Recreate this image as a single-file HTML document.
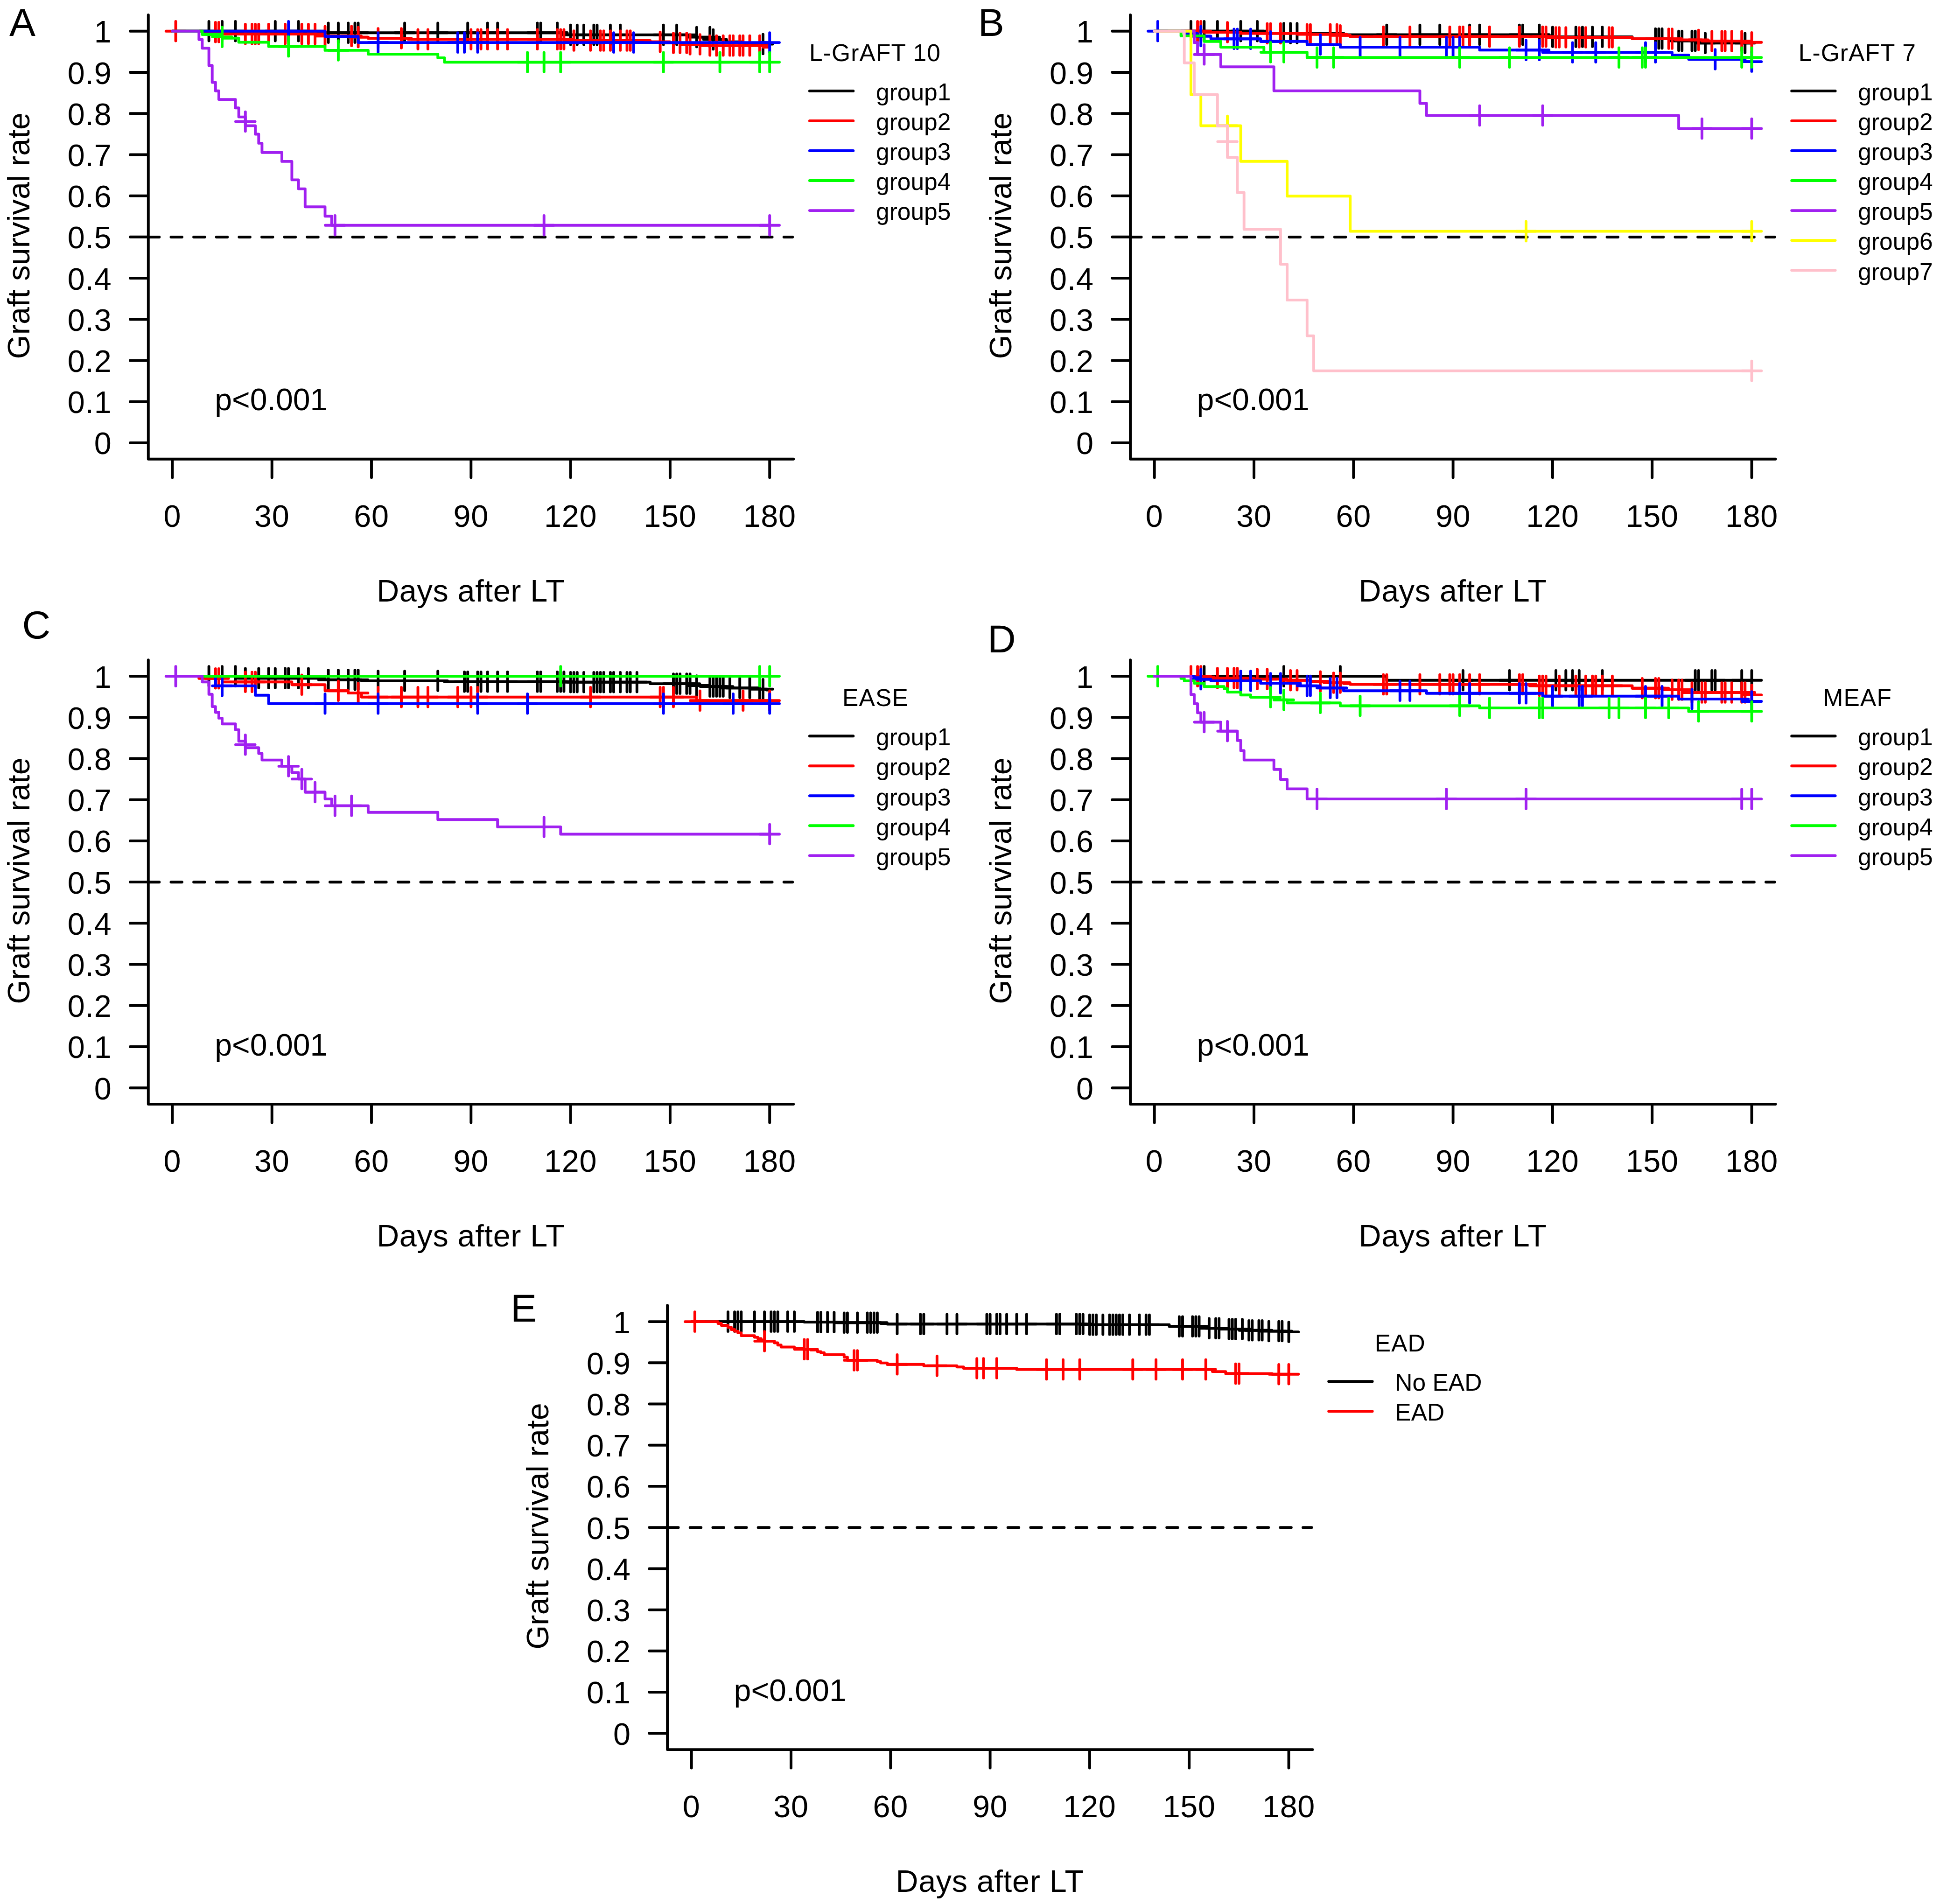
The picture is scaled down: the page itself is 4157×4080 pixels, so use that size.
<!DOCTYPE html>
<html><head><meta charset="utf-8"><title>Graft survival</title>
<style>html,body{margin:0;padding:0;background:#fff}svg{display:block}</style></head>
<body><svg width="4157" height="4080" viewBox="0 0 4157 4080" font-family="'Liberation Sans', Arial, sans-serif" fill="#000">
<rect width="4157" height="4080" fill="#fff"/>
<g transform="translate(0.0 0.0)">
<g fill="none" stroke-width="5.9" stroke-linecap="round" stroke-linejoin="round">
<path d="M317.8 508.0H1698.2" stroke="#000" stroke-dasharray="23.5 25.14"/>
<path d="M369.4 66.8 L696.5 66.8 L696.5 70.3 L1215.5 70.3 L1215.5 74.6 L1492.8 74.6 L1492.8 79.6 L1528.3 79.6 L1528.3 84.6 L1556.8 84.6 L1556.8 89.6 L1592.3 89.6 L1592.3 94.5 L1649.2 94.5" stroke="#000000"/>
<path d="M426.8 66.8h41.6M447.6 46.0v41.6M455.2 66.8h41.6M476.0 46.0v41.6M483.7 66.8h41.6M504.5 46.0v41.6M569.0 66.8h41.6M589.8 46.0v41.6M618.8 66.8h41.6M639.6 46.0v41.6M682.8 70.3h41.6M703.6 49.5v41.6M704.1 70.3h41.6M724.9 49.5v41.6M725.4 70.3h41.6M746.2 49.5v41.6M739.7 70.3h41.6M760.5 49.5v41.6M746.8 70.3h41.6M767.6 49.5v41.6M846.3 70.3h41.6M867.1 49.5v41.6M917.4 70.3h41.6M938.2 49.5v41.6M981.4 70.3h41.6M1002.2 49.5v41.6M1024.0 70.3h41.6M1044.8 49.5v41.6M1045.4 70.3h41.6M1066.2 49.5v41.6M1130.7 70.3h41.6M1151.5 49.5v41.6M1137.8 70.3h41.6M1158.6 49.5v41.6M1173.4 70.3h41.6M1194.2 49.5v41.6M1201.8 74.6h41.6M1222.6 53.8v41.6M1216.0 74.6h41.6M1236.8 53.8v41.6M1230.2 74.6h41.6M1251.0 53.8v41.6M1251.6 74.6h41.6M1272.4 53.8v41.6M1258.7 74.6h41.6M1279.5 53.8v41.6M1287.1 74.6h41.6M1307.9 53.8v41.6M1308.5 74.6h41.6M1329.2 53.8v41.6M1400.9 74.6h41.6M1421.7 53.8v41.6M1429.3 74.6h41.6M1450.1 53.8v41.6M1472.0 79.6h41.6M1492.8 58.8v41.6M1500.4 79.6h41.6M1521.2 58.8v41.6M1507.5 84.6h41.6M1528.3 63.8v41.6M1614.2 94.5h41.6M1635.0 73.7v41.6" stroke="#000000"/>
<path d="M369.4 66.8 L433.4 66.8 L433.4 68.8 L476.0 68.8 L476.0 72.7 L696.5 72.7 L696.5 77.2 L767.6 77.2 L767.6 79.6 L788.9 79.6 L788.9 82.0 L881.3 82.0 L881.3 84.3 L1215.5 84.3 L1215.5 87.0 L1393.2 87.0 L1393.2 89.6 L1435.9 89.6 L1435.9 92.0 L1478.6 92.0 L1478.6 95.0 L1507.0 95.0 L1507.0 97.6 L1635.0 97.6 L1635.0 101.0 L1649.2 101.0" stroke="#FF0000"/>
<path d="M355.7 66.8h41.6M376.5 46.0v41.6M441.0 68.8h41.6M461.8 48.0v41.6M448.1 68.8h41.6M468.9 48.0v41.6M505.0 72.7h41.6M525.8 51.9v41.6M519.2 72.7h41.6M540.0 51.9v41.6M526.4 72.7h41.6M547.1 51.9v41.6M533.5 72.7h41.6M554.3 51.9v41.6M554.8 72.7h41.6M575.6 51.9v41.6M590.3 72.7h41.6M611.1 51.9v41.6M625.9 72.7h41.6M646.7 51.9v41.6M640.1 72.7h41.6M660.9 51.9v41.6M654.3 72.7h41.6M675.1 51.9v41.6M675.7 77.2h41.6M696.5 56.4v41.6M732.5 77.2h41.6M753.3 56.4v41.6M746.8 79.6h41.6M767.6 58.8v41.6M789.4 82.0h41.6M810.2 61.2v41.6M839.2 82.0h41.6M860.0 61.2v41.6M874.7 84.3h41.6M895.5 63.5v41.6M896.1 84.3h41.6M916.9 63.5v41.6M988.5 84.3h41.6M1009.3 63.5v41.6M1002.7 84.3h41.6M1023.5 63.5v41.6M1009.8 84.3h41.6M1030.6 63.5v41.6M1024.0 84.3h41.6M1044.8 63.5v41.6M1045.4 84.3h41.6M1066.2 63.5v41.6M1066.7 84.3h41.6M1087.5 63.5v41.6M1130.7 84.3h41.6M1151.5 63.5v41.6M1173.4 84.3h41.6M1194.2 63.5v41.6M1180.5 84.3h41.6M1201.3 63.5v41.6M1187.6 84.3h41.6M1208.4 63.5v41.6M1208.9 87.0h41.6M1229.7 66.2v41.6M1244.5 87.0h41.6M1265.3 66.2v41.6M1265.8 87.0h41.6M1286.6 66.2v41.6M1272.9 87.0h41.6M1293.7 66.2v41.6M1287.1 87.0h41.6M1307.9 66.2v41.6M1308.5 87.0h41.6M1329.2 66.2v41.6M1322.7 87.0h41.6M1343.5 66.2v41.6M1329.8 87.0h41.6M1350.6 66.2v41.6M1393.8 89.6h41.6M1414.6 68.8v41.6M1422.2 92.0h41.6M1443.0 71.2v41.6M1436.4 92.0h41.6M1457.2 71.2v41.6M1450.6 92.0h41.6M1471.4 71.2v41.6M1457.8 95.0h41.6M1478.6 74.2v41.6M1479.1 95.0h41.6M1499.9 74.2v41.6M1500.4 97.6h41.6M1521.2 76.8v41.6M1514.6 97.6h41.6M1535.4 76.8v41.6M1528.9 97.6h41.6M1549.7 76.8v41.6M1543.1 97.6h41.6M1563.9 76.8v41.6M1550.2 97.6h41.6M1571.0 76.8v41.6M1564.4 97.6h41.6M1585.2 76.8v41.6M1571.5 97.6h41.6M1592.3 76.8v41.6M1585.7 97.6h41.6M1606.5 76.8v41.6M1607.1 97.6h41.6M1627.9 76.8v41.6" stroke="#FF0000"/>
<path d="M369.4 66.8 L696.5 66.8 L696.5 78.1 L767.6 78.1 L767.6 91.1 L1649.2 91.1" stroke="#0000FF"/>
<path d="M597.5 66.8h41.6M618.2 46.0v41.6M789.4 91.1h41.6M810.2 70.3v41.6M960.1 91.1h41.6M980.9 70.3v41.6M974.3 91.1h41.6M995.1 70.3v41.6M1002.7 91.1h41.6M1023.5 70.3v41.6M1294.2 91.1h41.6M1315.0 70.3v41.6M1336.9 91.1h41.6M1357.7 70.3v41.6M1628.4 91.1h41.6M1649.2 70.3v41.6" stroke="#0000FF"/>
<path d="M369.4 66.8 L433.4 66.8 L433.4 74.0 L476.0 74.0 L476.0 81.7 L511.6 81.7 L511.6 90.6 L575.6 90.6 L575.6 99.6 L696.5 99.6 L696.5 107.9 L788.9 107.9 L788.9 116.0 L938.2 116.0 L938.2 123.9 L952.4 123.9 L952.4 133.3 L1649.2 133.3" stroke="#00FF00"/>
<path d="M455.2 79.1h41.6M476.0 58.3v41.6M597.5 99.6h41.6M618.2 78.8v41.6M704.1 107.9h41.6M724.9 87.1v41.6M1109.4 133.3h41.6M1130.2 112.5v41.6M1144.9 133.3h41.6M1165.7 112.5v41.6M1180.5 133.3h41.6M1201.3 112.5v41.6M1400.9 133.3h41.6M1421.7 112.5v41.6M1521.8 133.3h41.6M1542.6 112.5v41.6M1607.1 133.3h41.6M1627.9 112.5v41.6M1628.4 133.3h41.6M1649.2 112.5v41.6" stroke="#00FF00"/>
<path d="M369.4 66.8 L426.3 66.8 L426.3 84.8 L433.4 84.8 L433.4 103.2 L447.6 103.2 L447.6 140.2 L454.7 140.2 L454.7 176.5 L461.8 176.5 L461.8 194.8 L468.9 194.8 L468.9 213.1 L504.5 213.1 L504.5 231.2 L511.6 231.2 L511.6 250.6 L525.8 250.6 L525.8 269.4 L547.1 269.4 L547.1 287.5 L554.3 287.5 L554.3 306.9 L561.4 306.9 L561.4 326.7 L604.0 326.7 L604.0 345.9 L625.4 345.9 L625.4 385.4 L639.6 385.4 L639.6 404.6 L653.8 404.6 L653.8 443.2 L696.5 443.2 L696.5 463.3 L710.7 463.3 L710.7 482.8 L1649.2 482.8" stroke="#A020F0"/>
<path d="M505.0 260.5h41.6M525.8 239.7v41.6M697.0 482.8h41.6M717.8 462.0v41.6M1144.9 482.8h41.6M1165.7 462.0v41.6M1628.4 482.8h41.6M1649.2 462.0v41.6" stroke="#A020F0"/>
<path d="M317.8 32V983.8H1700.2M317.8 948.9H279M317.8 860.7H279M317.8 772.5H279M317.8 684.3H279M317.8 596.1H279M317.8 507.8H279M317.8 419.6H279M317.8 331.4H279M317.8 243.2H279M317.8 155.0H279M317.8 66.8H279M369.4 983.8V1023.3M582.7 983.8V1023.3M796.0 983.8V1023.3M1009.3 983.8V1023.3M1222.6 983.8V1023.3M1435.9 983.8V1023.3M1649.2 983.8V1023.3" stroke="#000"/>
</g>
<g font-size="66.5" text-anchor="end" letter-spacing="0.8">
<text x="239.5" y="973.4">0</text>
<text x="239.5" y="885.2">0.1</text>
<text x="239.5" y="797.0">0.2</text>
<text x="239.5" y="708.8">0.3</text>
<text x="239.5" y="620.6">0.4</text>
<text x="239.5" y="532.3">0.5</text>
<text x="239.5" y="444.1">0.6</text>
<text x="239.5" y="355.9">0.7</text>
<text x="239.5" y="267.7">0.8</text>
<text x="239.5" y="179.5">0.9</text>
<text x="239.5" y="91.3">1</text>
</g>
<g font-size="66.5" text-anchor="middle" letter-spacing="0.7">
<text x="369.4" y="1128.6">0</text>
<text x="582.7" y="1128.6">30</text>
<text x="796.0" y="1128.6">60</text>
<text x="1009.3" y="1128.6">90</text>
<text x="1222.6" y="1128.6">120</text>
<text x="1435.9" y="1128.6">150</text>
<text x="1649.2" y="1128.6">180</text>
<text x="1008.8" y="1289.2">Days after LT</text>
<text transform="translate(63 505) rotate(-90)" letter-spacing="0.2">Graft survival rate</text>
</g>
<text x="460.3" y="879.4" font-size="66.2">p&lt;0.001</text>
<g font-size="51.5">
<text x="1875.0" y="130.8" text-anchor="middle" letter-spacing="1.1">L-GrAFT 10</text>
<path d="M1734.9 194.9H1828.3" stroke="#000000" stroke-width="5.9" stroke-linecap="round"/>
<text x="1877" y="215.2">group1</text>
<path d="M1734.9 258.9H1828.3" stroke="#FF0000" stroke-width="5.9" stroke-linecap="round"/>
<text x="1877" y="279.2">group2</text>
<path d="M1734.9 323.0H1828.3" stroke="#0000FF" stroke-width="5.9" stroke-linecap="round"/>
<text x="1877" y="343.3">group3</text>
<path d="M1734.9 387.0H1828.3" stroke="#00FF00" stroke-width="5.9" stroke-linecap="round"/>
<text x="1877" y="407.3">group4</text>
<path d="M1734.9 451.1H1828.3" stroke="#A020F0" stroke-width="5.9" stroke-linecap="round"/>
<text x="1877" y="471.4">group5</text>
</g>
</g>
<text x="20.0" y="77.3" font-size="84">A</text>
<g transform="translate(2104.3 0.0)">
<g fill="none" stroke-width="5.9" stroke-linecap="round" stroke-linejoin="round">
<path d="M317.8 508.0H1698.2" stroke="#000" stroke-dasharray="23.5 25.14"/>
<path d="M369.4 66.8 L604.0 66.8 L604.0 70.9 L774.7 70.9 L774.7 74.5 L1215.5 74.5 L1215.5 79.0 L1393.2 79.0 L1393.2 82.6 L1478.6 82.6 L1478.6 87.5 L1535.4 87.5 L1535.4 92.2 L1649.2 92.2" stroke="#000000"/>
<path d="M426.8 66.8h41.6M447.6 46.0v41.6M455.2 66.8h41.6M476.0 46.0v41.6M483.7 66.8h41.6M504.5 46.0v41.6M533.5 66.8h41.6M554.3 46.0v41.6M569.0 66.8h41.6M589.8 46.0v41.6M625.9 70.9h41.6M646.7 50.1v41.6M640.1 70.9h41.6M660.9 50.1v41.6M654.3 70.9h41.6M675.1 50.1v41.6M846.3 74.5h41.6M867.1 53.7v41.6M917.4 74.5h41.6M938.2 53.7v41.6M960.1 74.5h41.6M980.9 53.7v41.6M1024.0 74.5h41.6M1044.8 53.7v41.6M1045.4 74.5h41.6M1066.2 53.7v41.6M1130.7 74.5h41.6M1151.5 53.7v41.6M1137.8 74.5h41.6M1158.6 53.7v41.6M1173.4 74.5h41.6M1194.2 53.7v41.6M1201.8 79.0h41.6M1222.6 58.2v41.6M1251.6 79.0h41.6M1272.4 58.2v41.6M1265.8 79.0h41.6M1286.6 58.2v41.6M1287.1 79.0h41.6M1307.9 58.2v41.6M1308.5 79.0h41.6M1329.2 58.2v41.6M1422.2 82.6h41.6M1443.0 61.8v41.6M1429.3 82.6h41.6M1450.1 61.8v41.6M1436.4 82.6h41.6M1457.2 61.8v41.6M1472.0 87.5h41.6M1492.8 66.7v41.6M1479.1 87.5h41.6M1499.9 66.7v41.6M1500.4 87.5h41.6M1521.2 66.7v41.6M1507.5 87.5h41.6M1528.3 66.7v41.6M1528.9 92.2h41.6M1549.7 71.4v41.6M1614.2 92.2h41.6M1635.0 71.4v41.6" stroke="#000000"/>
<path d="M369.4 66.8 L476.0 66.8 L476.0 69.0 L554.3 69.0 L554.3 71.5 L696.5 71.5 L696.5 73.5 L767.6 73.5 L767.6 75.8 L788.9 75.8 L788.9 78.5 L1215.5 78.5 L1215.5 80.0 L1393.2 80.0 L1393.2 83.0 L1485.7 83.0 L1485.7 85.5 L1542.6 85.5 L1542.6 88.0 L1635.0 88.0 L1635.0 90.7 L1649.2 90.7" stroke="#FF0000"/>
<path d="M441.0 66.8h41.6M461.8 46.0v41.6M448.1 66.8h41.6M468.9 46.0v41.6M505.0 69.0h41.6M525.8 48.2v41.6M590.3 71.5h41.6M611.1 50.7v41.6M597.5 71.5h41.6M618.2 50.7v41.6M618.8 71.5h41.6M639.6 50.7v41.6M675.7 73.5h41.6M696.5 52.7v41.6M682.8 73.5h41.6M703.6 52.7v41.6M725.4 73.5h41.6M746.2 52.7v41.6M739.7 73.5h41.6M760.5 52.7v41.6M746.8 75.8h41.6M767.6 55.0v41.6M839.2 78.5h41.6M860.0 57.7v41.6M896.1 78.5h41.6M916.9 57.7v41.6M981.4 78.5h41.6M1002.2 57.7v41.6M1002.7 78.5h41.6M1023.5 57.7v41.6M1009.8 78.5h41.6M1030.6 57.7v41.6M1024.0 78.5h41.6M1044.8 57.7v41.6M1066.7 78.5h41.6M1087.5 57.7v41.6M1130.7 78.5h41.6M1151.5 57.7v41.6M1180.5 78.5h41.6M1201.3 57.7v41.6M1187.6 78.5h41.6M1208.4 57.7v41.6M1208.9 80.0h41.6M1229.7 59.2v41.6M1216.0 80.0h41.6M1236.8 59.2v41.6M1230.2 80.0h41.6M1251.0 59.2v41.6M1258.7 80.0h41.6M1279.5 59.2v41.6M1272.9 80.0h41.6M1293.7 59.2v41.6M1322.7 80.0h41.6M1343.5 59.2v41.6M1329.8 80.0h41.6M1350.6 59.2v41.6M1450.6 83.0h41.6M1471.4 62.2v41.6M1457.8 83.0h41.6M1478.6 62.2v41.6M1514.6 85.5h41.6M1535.4 64.7v41.6M1543.1 88.0h41.6M1563.9 67.2v41.6M1564.4 88.0h41.6M1585.2 67.2v41.6M1571.5 88.0h41.6M1592.3 67.2v41.6M1585.7 88.0h41.6M1606.5 67.2v41.6M1607.1 88.0h41.6M1627.9 67.2v41.6M1628.4 90.7h41.6M1649.2 69.9v41.6" stroke="#FF0000"/>
<path d="M369.4 66.8 L433.4 66.8 L433.4 72.0 L461.8 72.0 L461.8 77.5 L490.3 77.5 L490.3 83.3 L596.9 83.3 L596.9 88.8 L696.5 88.8 L696.5 95.4 L767.6 95.4 L767.6 101.1 L1066.2 101.1 L1066.2 107.3 L1201.3 107.3 L1201.3 112.2 L1478.6 112.2 L1478.6 117.9 L1514.1 117.9 L1514.1 127.0 L1635.0 127.0 L1635.0 132.1 L1649.2 132.1" stroke="#0000FF"/>
<path d="M355.7 66.8h41.6M376.5 46.0v41.6M448.1 77.5h41.6M468.9 56.7v41.6M519.2 83.3h41.6M540.0 62.5v41.6M526.4 83.3h41.6M547.1 62.5v41.6M554.8 83.3h41.6M575.6 62.5v41.6M597.5 88.8h41.6M618.2 68.0v41.6M704.1 95.4h41.6M724.9 74.6v41.6M789.4 101.1h41.6M810.2 80.3v41.6M874.7 101.1h41.6M895.5 80.3v41.6M974.3 101.1h41.6M995.1 80.3v41.6M988.5 101.1h41.6M1009.3 80.3v41.6M1002.7 101.1h41.6M1023.5 80.3v41.6M1144.9 107.3h41.6M1165.7 86.5v41.6M1173.4 107.3h41.6M1194.2 86.5v41.6M1244.5 112.2h41.6M1265.3 91.4v41.6M1294.2 112.2h41.6M1315.0 91.4v41.6M1400.9 112.2h41.6M1421.7 91.4v41.6M1422.2 112.2h41.6M1443.0 91.4v41.6M1550.2 127.0h41.6M1571.0 106.2v41.6M1628.4 132.1h41.6M1649.2 111.3v41.6" stroke="#0000FF"/>
<path d="M369.4 66.8 L426.3 66.8 L426.3 76.9 L476.0 76.9 L476.0 88.8 L511.6 88.8 L511.6 101.1 L604.0 101.1 L604.0 112.0 L696.5 112.0 L696.5 123.3 L1649.2 123.3" stroke="#00FF00"/>
<path d="M597.5 112.0h41.6M618.2 91.2v41.6M625.9 112.0h41.6M646.7 91.2v41.6M697.0 123.3h41.6M717.8 102.5v41.6M732.5 123.3h41.6M753.3 102.5v41.6M1002.7 123.3h41.6M1023.5 102.5v41.6M1109.4 123.3h41.6M1130.2 102.5v41.6M1344.0 123.3h41.6M1364.8 102.5v41.6M1393.8 123.3h41.6M1414.6 102.5v41.6M1400.9 123.3h41.6M1421.7 102.5v41.6M1607.1 123.3h41.6M1627.9 102.5v41.6M1628.4 123.3h41.6M1649.2 102.5v41.6" stroke="#00FF00"/>
<path d="M369.4 66.8 L454.7 66.8 L454.7 91.3 L461.8 91.3 L461.8 116.8 L511.6 116.8 L511.6 143.3 L625.4 143.3 L625.4 194.6 L938.2 194.6 L938.2 221.5 L952.4 221.5 L952.4 247.5 L1492.8 247.5 L1492.8 275.4 L1649.2 275.4" stroke="#A020F0"/>
<path d="M455.2 116.8h41.6M476.0 96.0v41.6M1045.4 247.5h41.6M1066.2 226.7v41.6M1180.5 247.5h41.6M1201.3 226.7v41.6M1521.8 275.4h41.6M1542.6 254.6v41.6M1628.4 275.4h41.6M1649.2 254.6v41.6" stroke="#A020F0"/>
<path d="M369.4 66.8 L447.6 66.8 L447.6 202.8 L468.9 202.8 L468.9 269.5 L554.3 269.5 L554.3 345.8 L653.8 345.8 L653.8 420.3 L788.9 420.3 L788.9 495.6 L1649.2 495.6" stroke="#FFFF00"/>
<path d="M505.0 269.5h41.6M525.8 248.7v41.6M1144.9 495.6h41.6M1165.7 474.8v41.6M1628.4 495.6h41.6M1649.2 474.8v41.6" stroke="#FFFF00"/>
<path d="M369.4 66.8 L433.4 66.8 L433.4 134.7 L454.7 134.7 L454.7 202.8 L504.5 202.8 L504.5 269.5 L525.8 269.5 L525.8 337.2 L547.1 337.2 L547.1 412.5 L561.4 412.5 L561.4 491.3 L639.6 491.3 L639.6 566.3 L653.8 566.3 L653.8 642.9 L696.5 642.9 L696.5 719.6 L710.7 719.6 L710.7 794.6 L1649.2 794.6" stroke="#FFC0CB"/>
<path d="M505.0 303.5h41.6M525.8 282.7v41.6M1628.4 794.6h41.6M1649.2 773.8v41.6" stroke="#FFC0CB"/>
<path d="M317.8 32V983.8H1700.2M317.8 948.9H279M317.8 860.7H279M317.8 772.5H279M317.8 684.3H279M317.8 596.1H279M317.8 507.8H279M317.8 419.6H279M317.8 331.4H279M317.8 243.2H279M317.8 155.0H279M317.8 66.8H279M369.4 983.8V1023.3M582.7 983.8V1023.3M796.0 983.8V1023.3M1009.3 983.8V1023.3M1222.6 983.8V1023.3M1435.9 983.8V1023.3M1649.2 983.8V1023.3" stroke="#000"/>
</g>
<g font-size="66.5" text-anchor="end" letter-spacing="0.8">
<text x="239.5" y="973.4">0</text>
<text x="239.5" y="885.2">0.1</text>
<text x="239.5" y="797.0">0.2</text>
<text x="239.5" y="708.8">0.3</text>
<text x="239.5" y="620.6">0.4</text>
<text x="239.5" y="532.3">0.5</text>
<text x="239.5" y="444.1">0.6</text>
<text x="239.5" y="355.9">0.7</text>
<text x="239.5" y="267.7">0.8</text>
<text x="239.5" y="179.5">0.9</text>
<text x="239.5" y="91.3">1</text>
</g>
<g font-size="66.5" text-anchor="middle" letter-spacing="0.7">
<text x="369.4" y="1128.6">0</text>
<text x="582.7" y="1128.6">30</text>
<text x="796.0" y="1128.6">60</text>
<text x="1009.3" y="1128.6">90</text>
<text x="1222.6" y="1128.6">120</text>
<text x="1435.9" y="1128.6">150</text>
<text x="1649.2" y="1128.6">180</text>
<text x="1008.8" y="1289.2">Days after LT</text>
<text transform="translate(63 505) rotate(-90)" letter-spacing="0.2">Graft survival rate</text>
</g>
<text x="460.3" y="879.4" font-size="66.2">p&lt;0.001</text>
<g font-size="51.5">
<text x="1875.5" y="130.8" text-anchor="middle" letter-spacing="1.1">L-GrAFT 7</text>
<path d="M1734.9 194.9H1828.3" stroke="#000000" stroke-width="5.9" stroke-linecap="round"/>
<text x="1877" y="215.2">group1</text>
<path d="M1734.9 258.9H1828.3" stroke="#FF0000" stroke-width="5.9" stroke-linecap="round"/>
<text x="1877" y="279.2">group2</text>
<path d="M1734.9 323.0H1828.3" stroke="#0000FF" stroke-width="5.9" stroke-linecap="round"/>
<text x="1877" y="343.3">group3</text>
<path d="M1734.9 387.0H1828.3" stroke="#00FF00" stroke-width="5.9" stroke-linecap="round"/>
<text x="1877" y="407.3">group4</text>
<path d="M1734.9 451.1H1828.3" stroke="#A020F0" stroke-width="5.9" stroke-linecap="round"/>
<text x="1877" y="471.4">group5</text>
<path d="M1734.9 515.1H1828.3" stroke="#FFFF00" stroke-width="5.9" stroke-linecap="round"/>
<text x="1877" y="535.4">group6</text>
<path d="M1734.9 579.2H1828.3" stroke="#FFC0CB" stroke-width="5.9" stroke-linecap="round"/>
<text x="1877" y="599.5">group7</text>
</g>
</g>
<text x="2095.8" y="77.3" font-size="84">B</text>
<g transform="translate(0.0 1382.3)">
<g fill="none" stroke-width="5.9" stroke-linecap="round" stroke-linejoin="round">
<path d="M317.8 508.0H1698.2" stroke="#000" stroke-dasharray="23.5 25.14"/>
<path d="M369.4 66.8 L511.6 66.8 L511.6 71.0 L696.5 71.0 L696.5 74.5 L774.7 74.5 L774.7 76.6 L952.4 76.6 L952.4 78.5 L1215.5 78.5 L1215.5 79.5 L1393.2 79.5 L1393.2 82.8 L1492.8 82.8 L1492.8 86.7 L1521.2 86.7 L1521.2 88.8 L1556.8 88.8 L1556.8 91.9 L1627.9 91.9 L1627.9 94.4 L1642.1 94.4 L1642.1 96.2 L1649.2 96.2" stroke="#000000"/>
<path d="M426.8 66.8h41.6M447.6 46.0v41.6M455.2 66.8h41.6M476.0 46.0v41.6M483.7 66.8h41.6M504.5 46.0v41.6M505.0 71.0h41.6M525.8 50.2v41.6M533.5 71.0h41.6M554.3 50.2v41.6M554.8 71.0h41.6M575.6 50.2v41.6M569.0 71.0h41.6M589.8 50.2v41.6M590.3 71.0h41.6M611.1 50.2v41.6M597.5 71.0h41.6M618.2 50.2v41.6M618.8 71.0h41.6M639.6 50.2v41.6M640.1 71.0h41.6M660.9 50.2v41.6M682.8 74.5h41.6M703.6 53.7v41.6M704.1 74.5h41.6M724.9 53.7v41.6M725.4 74.5h41.6M746.2 53.7v41.6M739.7 74.5h41.6M760.5 53.7v41.6M746.8 74.5h41.6M767.6 53.7v41.6M789.4 76.6h41.6M810.2 55.8v41.6M846.3 76.6h41.6M867.1 55.8v41.6M917.4 76.6h41.6M938.2 55.8v41.6M974.3 78.5h41.6M995.1 57.7v41.6M981.4 78.5h41.6M1002.2 57.7v41.6M1002.7 78.5h41.6M1023.5 57.7v41.6M1009.8 78.5h41.6M1030.6 57.7v41.6M1024.0 78.5h41.6M1044.8 57.7v41.6M1045.4 78.5h41.6M1066.2 57.7v41.6M1066.7 78.5h41.6M1087.5 57.7v41.6M1130.7 78.5h41.6M1151.5 57.7v41.6M1137.8 78.5h41.6M1158.6 57.7v41.6M1173.4 78.5h41.6M1194.2 57.7v41.6M1180.5 78.5h41.6M1201.3 57.7v41.6M1187.6 78.5h41.6M1208.4 57.7v41.6M1201.8 79.5h41.6M1222.6 58.7v41.6M1208.9 79.5h41.6M1229.7 58.7v41.6M1216.0 79.5h41.6M1236.8 58.7v41.6M1230.2 79.5h41.6M1251.0 58.7v41.6M1251.6 79.5h41.6M1272.4 58.7v41.6M1258.7 79.5h41.6M1279.5 58.7v41.6M1265.8 79.5h41.6M1286.6 58.7v41.6M1272.9 79.5h41.6M1293.7 58.7v41.6M1287.1 79.5h41.6M1307.9 58.7v41.6M1294.2 79.5h41.6M1315.0 58.7v41.6M1308.5 79.5h41.6M1329.2 58.7v41.6M1322.7 79.5h41.6M1343.5 58.7v41.6M1329.8 79.5h41.6M1350.6 58.7v41.6M1344.0 79.5h41.6M1364.8 58.7v41.6M1422.2 82.8h41.6M1443.0 62.0v41.6M1429.3 82.8h41.6M1450.1 62.0v41.6M1436.4 82.8h41.6M1457.2 62.0v41.6M1450.6 82.8h41.6M1471.4 62.0v41.6M1457.8 82.8h41.6M1478.6 62.0v41.6M1472.0 86.7h41.6M1492.8 65.9v41.6M1500.4 88.8h41.6M1521.2 68.0v41.6M1507.5 88.8h41.6M1528.3 68.0v41.6M1514.6 88.8h41.6M1535.4 68.0v41.6M1521.8 88.8h41.6M1542.6 68.0v41.6M1528.9 88.8h41.6M1549.7 68.0v41.6M1543.1 91.9h41.6M1563.9 71.1v41.6M1564.4 91.9h41.6M1585.2 71.1v41.6M1585.7 91.9h41.6M1606.5 71.1v41.6M1607.1 94.4h41.6M1627.9 73.6v41.6M1614.2 94.4h41.6M1635.0 73.6v41.6" stroke="#000000"/>
<path d="M369.4 66.8 L426.3 66.8 L426.3 71.4 L476.0 71.4 L476.0 79.0 L625.4 79.0 L625.4 84.9 L696.5 84.9 L696.5 98.0 L746.2 98.0 L746.2 102.7 L774.7 102.7 L774.7 111.5 L1492.8 111.5 L1492.8 118.9 L1649.2 118.9" stroke="#FF0000"/>
<path d="M441.0 71.4h41.6M461.8 50.6v41.6M448.1 71.4h41.6M468.9 50.6v41.6M505.0 79.0h41.6M525.8 58.2v41.6M519.2 79.0h41.6M540.0 58.2v41.6M526.4 79.0h41.6M547.1 58.2v41.6M625.9 84.9h41.6M646.7 64.1v41.6M704.1 98.0h41.6M724.9 77.2v41.6M746.8 102.7h41.6M767.6 81.9v41.6M789.4 111.5h41.6M810.2 90.7v41.6M839.2 111.5h41.6M860.0 90.7v41.6M874.7 111.5h41.6M895.5 90.7v41.6M896.1 111.5h41.6M916.9 90.7v41.6M960.1 111.5h41.6M980.9 90.7v41.6M988.5 111.5h41.6M1009.3 90.7v41.6M1002.7 111.5h41.6M1023.5 90.7v41.6M1244.5 111.5h41.6M1265.3 90.7v41.6M1393.8 111.5h41.6M1414.6 90.7v41.6M1400.9 111.5h41.6M1421.7 90.7v41.6M1422.2 111.5h41.6M1443.0 90.7v41.6M1479.1 118.9h41.6M1499.9 98.1v41.6M1571.5 118.9h41.6M1592.3 98.1v41.6M1628.4 118.9h41.6M1649.2 98.1v41.6" stroke="#FF0000"/>
<path d="M369.4 66.8 L461.8 66.8 L461.8 87.3 L547.1 87.3 L547.1 107.4 L575.6 107.4 L575.6 125.5 L1649.2 125.5" stroke="#0000FF"/>
<path d="M455.2 87.3h41.6M476.0 66.5v41.6M675.7 125.5h41.6M696.5 104.7v41.6M789.4 125.5h41.6M810.2 104.7v41.6M1002.7 125.5h41.6M1023.5 104.7v41.6M1109.4 125.5h41.6M1130.2 104.7v41.6M1400.9 125.5h41.6M1421.7 104.7v41.6M1550.2 125.5h41.6M1571.0 104.7v41.6M1628.4 125.5h41.6M1649.2 104.7v41.6" stroke="#0000FF"/>
<path d="M369.4 66.8 L1649.2 66.8" stroke="#00FF00"/>
<path d="M1180.5 66.8h41.6M1201.3 46.0v41.6M1607.1 66.8h41.6M1627.9 46.0v41.6M1628.4 66.8h41.6M1649.2 46.0v41.6" stroke="#00FF00"/>
<path d="M369.4 66.8 L433.4 66.8 L433.4 79.0 L447.6 79.0 L447.6 105.5 L454.7 105.5 L454.7 131.8 L461.8 131.8 L461.8 144.2 L468.9 144.2 L468.9 156.6 L476.0 156.6 L476.0 168.9 L504.5 168.9 L504.5 181.3 L511.6 181.3 L511.6 206.0 L525.8 206.0 L525.8 220.0 L554.3 220.0 L554.3 232.3 L561.4 232.3 L561.4 246.3 L604.0 246.3 L604.0 259.6 L625.4 259.6 L625.4 273.2 L639.6 273.2 L639.6 287.1 L653.8 287.1 L653.8 315.2 L696.5 315.2 L696.5 329.8 L710.7 329.8 L710.7 344.3 L788.9 344.3 L788.9 358.5 L938.2 358.5 L938.2 374.0 L1066.2 374.0 L1066.2 389.7 L1201.3 389.7 L1201.3 405.2 L1649.2 405.2" stroke="#A020F0"/>
<path d="M355.7 66.8h41.6M376.5 46.0v41.6M505.0 213.5h41.6M525.8 192.7v41.6M597.5 259.6h41.6M618.2 238.8v41.6M625.9 287.1h41.6M646.7 266.3v41.6M654.3 315.2h41.6M675.1 294.4v41.6M697.0 344.3h41.6M717.8 323.5v41.6M732.5 344.3h41.6M753.3 323.5v41.6M1144.9 389.7h41.6M1165.7 368.9v41.6M1628.4 405.2h41.6M1649.2 384.4v41.6" stroke="#A020F0"/>
<path d="M317.8 32V983.8H1700.2M317.8 948.9H279M317.8 860.7H279M317.8 772.5H279M317.8 684.3H279M317.8 596.1H279M317.8 507.8H279M317.8 419.6H279M317.8 331.4H279M317.8 243.2H279M317.8 155.0H279M317.8 66.8H279M369.4 983.8V1023.3M582.7 983.8V1023.3M796.0 983.8V1023.3M1009.3 983.8V1023.3M1222.6 983.8V1023.3M1435.9 983.8V1023.3M1649.2 983.8V1023.3" stroke="#000"/>
</g>
<g font-size="66.5" text-anchor="end" letter-spacing="0.8">
<text x="239.5" y="973.4">0</text>
<text x="239.5" y="885.2">0.1</text>
<text x="239.5" y="797.0">0.2</text>
<text x="239.5" y="708.8">0.3</text>
<text x="239.5" y="620.6">0.4</text>
<text x="239.5" y="532.3">0.5</text>
<text x="239.5" y="444.1">0.6</text>
<text x="239.5" y="355.9">0.7</text>
<text x="239.5" y="267.7">0.8</text>
<text x="239.5" y="179.5">0.9</text>
<text x="239.5" y="91.3">1</text>
</g>
<g font-size="66.5" text-anchor="middle" letter-spacing="0.7">
<text x="369.4" y="1128.6">0</text>
<text x="582.7" y="1128.6">30</text>
<text x="796.0" y="1128.6">60</text>
<text x="1009.3" y="1128.6">90</text>
<text x="1222.6" y="1128.6">120</text>
<text x="1435.9" y="1128.6">150</text>
<text x="1649.2" y="1128.6">180</text>
<text x="1008.8" y="1289.2">Days after LT</text>
<text transform="translate(63 505) rotate(-90)" letter-spacing="0.2">Graft survival rate</text>
</g>
<text x="460.3" y="879.4" font-size="66.2">p&lt;0.001</text>
<g font-size="51.5">
<text x="1876.0" y="130.8" text-anchor="middle" letter-spacing="1.1">EASE</text>
<path d="M1734.9 194.9H1828.3" stroke="#000000" stroke-width="5.9" stroke-linecap="round"/>
<text x="1877" y="215.2">group1</text>
<path d="M1734.9 258.9H1828.3" stroke="#FF0000" stroke-width="5.9" stroke-linecap="round"/>
<text x="1877" y="279.2">group2</text>
<path d="M1734.9 323.0H1828.3" stroke="#0000FF" stroke-width="5.9" stroke-linecap="round"/>
<text x="1877" y="343.3">group3</text>
<path d="M1734.9 387.0H1828.3" stroke="#00FF00" stroke-width="5.9" stroke-linecap="round"/>
<text x="1877" y="407.3">group4</text>
<path d="M1734.9 451.1H1828.3" stroke="#A020F0" stroke-width="5.9" stroke-linecap="round"/>
<text x="1877" y="471.4">group5</text>
</g>
</g>
<text x="47.5" y="1368.0" font-size="84">C</text>
<g transform="translate(2104.3 1382.3)">
<g fill="none" stroke-width="5.9" stroke-linecap="round" stroke-linejoin="round">
<path d="M317.8 508.0H1698.2" stroke="#000" stroke-dasharray="23.5 25.14"/>
<path d="M369.4 66.8 L867.1 66.8 L867.1 75.5 L1649.2 75.5" stroke="#000000"/>
<path d="M455.2 66.8h41.6M476.0 46.0v41.6M625.9 66.8h41.6M646.7 46.0v41.6M746.8 66.8h41.6M767.6 46.0v41.6M1009.8 75.5h41.6M1030.6 54.7v41.6M1109.4 75.5h41.6M1130.2 54.7v41.6M1208.9 75.5h41.6M1229.7 54.7v41.6M1230.2 75.5h41.6M1251.0 54.7v41.6M1244.5 75.5h41.6M1265.3 54.7v41.6M1258.7 75.5h41.6M1279.5 54.7v41.6M1308.5 75.5h41.6M1329.2 54.7v41.6M1507.5 75.5h41.6M1528.3 54.7v41.6M1514.6 75.5h41.6M1535.4 54.7v41.6M1543.1 75.5h41.6M1563.9 54.7v41.6M1550.2 75.5h41.6M1571.0 54.7v41.6M1607.1 75.5h41.6M1627.9 54.7v41.6M1628.4 75.5h41.6M1649.2 54.7v41.6" stroke="#000000"/>
<path d="M369.4 66.8 L476.0 66.8 L476.0 68.5 L497.4 68.5 L497.4 70.7 L582.7 70.7 L582.7 73.0 L653.8 73.0 L653.8 75.4 L703.6 75.4 L703.6 78.0 L739.1 78.0 L739.1 80.6 L774.7 80.6 L774.7 82.5 L788.9 82.5 L788.9 84.2 L1187.1 84.2 L1187.1 87.2 L1393.2 87.2 L1393.2 92.4 L1464.3 92.4 L1464.3 95.7 L1521.2 95.7 L1521.2 101.7 L1642.1 101.7 L1642.1 106.8 L1649.2 106.8" stroke="#FF0000"/>
<path d="M426.8 66.8h41.6M447.6 46.0v41.6M441.0 66.8h41.6M461.8 46.0v41.6M448.1 66.8h41.6M468.9 46.0v41.6M483.7 70.7h41.6M504.5 49.9v41.6M505.0 70.7h41.6M525.8 49.9v41.6M519.2 70.7h41.6M540.0 49.9v41.6M526.4 70.7h41.6M547.1 49.9v41.6M569.0 73.0h41.6M589.8 52.2v41.6M590.3 73.0h41.6M611.1 52.2v41.6M640.1 75.4h41.6M660.9 54.6v41.6M654.3 75.4h41.6M675.1 54.6v41.6M704.1 78.0h41.6M724.9 57.2v41.6M732.5 80.6h41.6M753.3 59.8v41.6M746.8 80.6h41.6M767.6 59.8v41.6M839.2 84.2h41.6M860.0 63.4v41.6M846.3 84.2h41.6M867.1 63.4v41.6M917.4 84.2h41.6M938.2 63.4v41.6M960.1 84.2h41.6M980.9 63.4v41.6M981.4 84.2h41.6M1002.2 63.4v41.6M988.5 84.2h41.6M1009.3 63.4v41.6M1002.7 84.2h41.6M1023.5 63.4v41.6M1024.0 84.2h41.6M1044.8 63.4v41.6M1045.4 84.2h41.6M1066.2 63.4v41.6M1130.7 84.2h41.6M1151.5 63.4v41.6M1137.8 84.2h41.6M1158.6 63.4v41.6M1173.4 87.2h41.6M1194.2 66.4v41.6M1180.5 87.2h41.6M1201.3 66.4v41.6M1187.6 87.2h41.6M1208.4 66.4v41.6M1216.0 87.2h41.6M1236.8 66.4v41.6M1251.6 87.2h41.6M1272.4 66.4v41.6M1272.9 87.2h41.6M1293.7 66.4v41.6M1287.1 87.2h41.6M1307.9 66.4v41.6M1294.2 87.2h41.6M1315.0 66.4v41.6M1308.5 87.2h41.6M1329.2 66.4v41.6M1329.8 87.2h41.6M1350.6 66.4v41.6M1393.8 92.4h41.6M1414.6 71.6v41.6M1422.2 92.4h41.6M1443.0 71.6v41.6M1429.3 92.4h41.6M1450.1 71.6v41.6M1457.8 95.7h41.6M1478.6 74.9v41.6M1472.0 95.7h41.6M1492.8 74.9v41.6M1479.1 95.7h41.6M1499.9 74.9v41.6M1500.4 101.7h41.6M1521.2 80.9v41.6M1521.8 101.7h41.6M1542.6 80.9v41.6M1528.9 101.7h41.6M1549.7 80.9v41.6M1564.4 101.7h41.6M1585.2 80.9v41.6M1571.5 101.7h41.6M1592.3 80.9v41.6M1585.7 101.7h41.6M1606.5 80.9v41.6M1607.1 101.7h41.6M1627.9 80.9v41.6M1614.2 101.7h41.6M1635.0 80.9v41.6M1628.4 106.8h41.6M1649.2 86.0v41.6" stroke="#FF0000"/>
<path d="M369.4 66.8 L454.7 66.8 L454.7 70.0 L468.9 70.0 L468.9 73.3 L490.3 73.3 L490.3 76.6 L596.9 76.6 L596.9 81.8 L682.2 81.8 L682.2 87.3 L717.8 87.3 L717.8 92.0 L774.7 92.0 L774.7 98.0 L952.4 98.0 L952.4 103.5 L1201.3 103.5 L1201.3 109.5 L1492.8 109.5 L1492.8 115.6 L1642.1 115.6 L1642.1 120.7 L1649.2 120.7" stroke="#0000FF"/>
<path d="M448.1 73.3h41.6M468.9 52.5v41.6M533.5 76.6h41.6M554.3 55.8v41.6M554.8 76.6h41.6M575.6 55.8v41.6M597.5 81.8h41.6M618.2 61.0v41.6M618.8 81.8h41.6M639.6 61.0v41.6M675.7 87.3h41.6M696.5 66.5v41.6M682.8 87.3h41.6M703.6 66.5v41.6M725.4 92.0h41.6M746.2 71.2v41.6M739.7 92.0h41.6M760.5 71.2v41.6M874.7 98.0h41.6M895.5 77.2v41.6M896.1 98.0h41.6M916.9 77.2v41.6M1002.7 103.5h41.6M1023.5 82.7v41.6M1024.0 103.5h41.6M1044.8 82.7v41.6M1130.7 103.5h41.6M1151.5 82.7v41.6M1144.9 103.5h41.6M1165.7 82.7v41.6M1201.8 109.5h41.6M1222.6 88.7v41.6M1258.7 109.5h41.6M1279.5 88.7v41.6M1265.8 109.5h41.6M1286.6 88.7v41.6M1400.9 109.5h41.6M1421.7 88.7v41.6M1436.4 109.5h41.6M1457.2 88.7v41.6M1500.4 115.6h41.6M1521.2 94.8v41.6M1628.4 120.7h41.6M1649.2 99.9v41.6" stroke="#0000FF"/>
<path d="M369.4 66.8 L426.3 66.8 L426.3 71.4 L433.4 71.4 L433.4 76.6 L454.7 76.6 L454.7 81.8 L476.0 81.8 L476.0 88.9 L518.7 88.9 L518.7 93.2 L525.8 93.2 L525.8 100.8 L554.3 100.8 L554.3 107.0 L575.6 107.0 L575.6 111.7 L625.4 111.7 L625.4 117.5 L653.8 117.5 L653.8 124.0 L767.6 124.0 L767.6 130.2 L1066.2 130.2 L1066.2 134.8 L1514.1 134.8 L1514.1 142.1 L1649.2 142.1" stroke="#00FF00"/>
<path d="M355.7 66.8h41.6M376.5 46.0v41.6M597.5 111.7h41.6M618.2 90.9v41.6M625.9 117.5h41.6M646.7 96.7v41.6M704.1 124.0h41.6M724.9 103.2v41.6M789.4 130.2h41.6M810.2 109.4v41.6M1002.7 130.2h41.6M1023.5 109.4v41.6M1066.7 134.8h41.6M1087.5 114.0v41.6M1173.4 134.8h41.6M1194.2 114.0v41.6M1180.5 134.8h41.6M1201.3 114.0v41.6M1322.7 134.8h41.6M1343.5 114.0v41.6M1344.0 134.8h41.6M1364.8 114.0v41.6M1400.9 134.8h41.6M1421.7 114.0v41.6M1450.6 134.8h41.6M1471.4 114.0v41.6M1514.6 142.1h41.6M1535.4 121.3v41.6M1628.4 142.1h41.6M1649.2 121.3v41.6" stroke="#00FF00"/>
<path d="M369.4 66.8 L447.6 66.8 L447.6 106.0 L454.7 106.0 L454.7 125.6 L461.8 125.6 L461.8 145.1 L468.9 145.1 L468.9 165.2 L511.6 165.2 L511.6 184.4 L547.1 184.4 L547.1 204.5 L554.3 204.5 L554.3 226.2 L561.4 226.2 L561.4 246.3 L625.4 246.3 L625.4 266.4 L639.6 266.4 L639.6 288.0 L653.8 288.0 L653.8 308.1 L696.5 308.1 L696.5 329.8 L1649.2 329.8" stroke="#A020F0"/>
<path d="M455.2 165.2h41.6M476.0 144.4v41.6M505.0 184.4h41.6M525.8 163.6v41.6M697.0 329.8h41.6M717.8 309.0v41.6M974.3 329.8h41.6M995.1 309.0v41.6M1144.9 329.8h41.6M1165.7 309.0v41.6M1607.1 329.8h41.6M1627.9 309.0v41.6M1628.4 329.8h41.6M1649.2 309.0v41.6" stroke="#A020F0"/>
<path d="M317.8 32V983.8H1700.2M317.8 948.9H279M317.8 860.7H279M317.8 772.5H279M317.8 684.3H279M317.8 596.1H279M317.8 507.8H279M317.8 419.6H279M317.8 331.4H279M317.8 243.2H279M317.8 155.0H279M317.8 66.8H279M369.4 983.8V1023.3M582.7 983.8V1023.3M796.0 983.8V1023.3M1009.3 983.8V1023.3M1222.6 983.8V1023.3M1435.9 983.8V1023.3M1649.2 983.8V1023.3" stroke="#000"/>
</g>
<g font-size="66.5" text-anchor="end" letter-spacing="0.8">
<text x="239.5" y="973.4">0</text>
<text x="239.5" y="885.2">0.1</text>
<text x="239.5" y="797.0">0.2</text>
<text x="239.5" y="708.8">0.3</text>
<text x="239.5" y="620.6">0.4</text>
<text x="239.5" y="532.3">0.5</text>
<text x="239.5" y="444.1">0.6</text>
<text x="239.5" y="355.9">0.7</text>
<text x="239.5" y="267.7">0.8</text>
<text x="239.5" y="179.5">0.9</text>
<text x="239.5" y="91.3">1</text>
</g>
<g font-size="66.5" text-anchor="middle" letter-spacing="0.7">
<text x="369.4" y="1128.6">0</text>
<text x="582.7" y="1128.6">30</text>
<text x="796.0" y="1128.6">60</text>
<text x="1009.3" y="1128.6">90</text>
<text x="1222.6" y="1128.6">120</text>
<text x="1435.9" y="1128.6">150</text>
<text x="1649.2" y="1128.6">180</text>
<text x="1008.8" y="1289.2">Days after LT</text>
<text transform="translate(63 505) rotate(-90)" letter-spacing="0.2">Graft survival rate</text>
</g>
<text x="460.3" y="879.4" font-size="66.2">p&lt;0.001</text>
<g font-size="51.5">
<text x="1876.0" y="130.8" text-anchor="middle" letter-spacing="1.1">MEAF</text>
<path d="M1734.9 194.9H1828.3" stroke="#000000" stroke-width="5.9" stroke-linecap="round"/>
<text x="1877" y="215.2">group1</text>
<path d="M1734.9 258.9H1828.3" stroke="#FF0000" stroke-width="5.9" stroke-linecap="round"/>
<text x="1877" y="279.2">group2</text>
<path d="M1734.9 323.0H1828.3" stroke="#0000FF" stroke-width="5.9" stroke-linecap="round"/>
<text x="1877" y="343.3">group3</text>
<path d="M1734.9 387.0H1828.3" stroke="#00FF00" stroke-width="5.9" stroke-linecap="round"/>
<text x="1877" y="407.3">group4</text>
<path d="M1734.9 451.1H1828.3" stroke="#A020F0" stroke-width="5.9" stroke-linecap="round"/>
<text x="1877" y="471.4">group5</text>
</g>
</g>
<text x="2116.0" y="1397.8" font-size="84">D</text>
<g transform="translate(1112.3 2765.3)">
<g fill="none" stroke-width="5.9" stroke-linecap="round" stroke-linejoin="round">
<path d="M317.8 508.0H1698.2" stroke="#000" stroke-dasharray="23.5 25.14"/>
<path d="M369.4 66.8 L611.1 66.8 L611.1 67.8 L682.2 67.8 L682.2 69.0 L774.7 69.0 L774.7 70.7 L788.9 70.7 L788.9 72.0 L1215.5 72.0 L1215.5 73.3 L1393.2 73.3 L1393.2 76.9 L1471.4 76.9 L1471.4 81.0 L1514.1 81.0 L1514.1 82.8 L1556.8 82.8 L1556.8 85.4 L1606.5 85.4 L1606.5 87.2 L1642.1 87.2 L1642.1 88.8 L1649.2 88.8" stroke="#000000"/>
<path d="M426.8 66.8h41.6M447.6 46.0v41.6M441.0 66.8h41.6M461.8 46.0v41.6M448.1 66.8h41.6M468.9 46.0v41.6M455.2 66.8h41.6M476.0 46.0v41.6M483.7 66.8h41.6M504.5 46.0v41.6M505.0 66.8h41.6M525.8 46.0v41.6M519.2 66.8h41.6M540.0 46.0v41.6M526.4 66.8h41.6M547.1 46.0v41.6M533.5 66.8h41.6M554.3 46.0v41.6M554.8 66.8h41.6M575.6 46.0v41.6M569.0 66.8h41.6M589.8 46.0v41.6M618.8 67.8h41.6M639.6 47.0v41.6M625.9 67.8h41.6M646.7 47.0v41.6M640.1 67.8h41.6M660.9 47.0v41.6M654.3 67.8h41.6M675.1 47.0v41.6M675.7 69.0h41.6M696.5 48.2v41.6M682.8 69.0h41.6M703.6 48.2v41.6M704.1 69.0h41.6M724.9 48.2v41.6M725.4 69.0h41.6M746.2 48.2v41.6M732.5 69.0h41.6M753.3 48.2v41.6M739.7 69.0h41.6M760.5 48.2v41.6M746.8 69.0h41.6M767.6 48.2v41.6M789.4 72.0h41.6M810.2 51.2v41.6M839.2 72.0h41.6M860.0 51.2v41.6M846.3 72.0h41.6M867.1 51.2v41.6M896.1 72.0h41.6M916.9 51.2v41.6M917.4 72.0h41.6M938.2 51.2v41.6M981.4 72.0h41.6M1002.2 51.2v41.6M988.5 72.0h41.6M1009.3 51.2v41.6M1002.7 72.0h41.6M1023.5 51.2v41.6M1009.8 72.0h41.6M1030.6 51.2v41.6M1024.0 72.0h41.6M1044.8 51.2v41.6M1045.4 72.0h41.6M1066.2 51.2v41.6M1066.7 72.0h41.6M1087.5 51.2v41.6M1130.7 72.0h41.6M1151.5 51.2v41.6M1137.8 72.0h41.6M1158.6 51.2v41.6M1173.4 72.0h41.6M1194.2 51.2v41.6M1180.5 72.0h41.6M1201.3 51.2v41.6M1187.6 72.0h41.6M1208.4 51.2v41.6M1201.8 73.3h41.6M1222.6 52.5v41.6M1208.9 73.3h41.6M1229.7 52.5v41.6M1216.0 73.3h41.6M1236.8 52.5v41.6M1230.2 73.3h41.6M1251.0 52.5v41.6M1244.5 73.3h41.6M1265.3 52.5v41.6M1251.6 73.3h41.6M1272.4 52.5v41.6M1258.7 73.3h41.6M1279.5 52.5v41.6M1265.8 73.3h41.6M1286.6 52.5v41.6M1272.9 73.3h41.6M1293.7 52.5v41.6M1287.1 73.3h41.6M1307.9 52.5v41.6M1308.5 73.3h41.6M1329.2 52.5v41.6M1322.7 73.3h41.6M1343.5 52.5v41.6M1329.8 73.3h41.6M1350.6 52.5v41.6M1393.8 76.9h41.6M1414.6 56.1v41.6M1400.9 76.9h41.6M1421.7 56.1v41.6M1422.2 76.9h41.6M1443.0 56.1v41.6M1429.3 76.9h41.6M1450.1 56.1v41.6M1436.4 76.9h41.6M1457.2 56.1v41.6M1457.8 81.0h41.6M1478.6 60.2v41.6M1472.0 81.0h41.6M1492.8 60.2v41.6M1479.1 81.0h41.6M1499.9 60.2v41.6M1500.4 82.8h41.6M1521.2 62.0v41.6M1507.5 82.8h41.6M1528.3 62.0v41.6M1514.6 82.8h41.6M1535.4 62.0v41.6M1528.9 82.8h41.6M1549.7 62.0v41.6M1543.1 85.4h41.6M1563.9 64.6v41.6M1550.2 85.4h41.6M1571.0 64.6v41.6M1564.4 85.4h41.6M1585.2 64.6v41.6M1571.5 85.4h41.6M1592.3 64.6v41.6M1585.7 87.2h41.6M1606.5 66.4v41.6M1607.1 87.2h41.6M1627.9 66.4v41.6M1614.2 87.2h41.6M1635.0 66.4v41.6M1628.4 88.8h41.6M1649.2 68.0v41.6" stroke="#000000"/>
<path d="M369.4 66.8 L426.3 66.8 L426.3 70.7 L433.4 70.7 L433.4 74.7 L447.6 74.7 L447.6 79.0 L454.7 79.0 L454.7 83.7 L461.8 83.7 L461.8 87.3 L468.9 87.3 L468.9 90.8 L476.0 90.8 L476.0 96.8 L504.5 96.8 L504.5 100.3 L511.6 100.3 L511.6 103.2 L518.7 103.2 L518.7 106.3 L525.8 106.3 L525.8 108.6 L547.1 108.6 L547.1 112.2 L554.3 112.2 L554.3 116.9 L561.4 116.9 L561.4 121.2 L589.8 121.2 L589.8 124.0 L611.1 124.0 L611.1 125.9 L625.4 125.9 L625.4 127.6 L639.6 127.6 L639.6 131.2 L646.7 131.2 L646.7 133.5 L653.8 133.5 L653.8 137.6 L696.5 137.6 L696.5 143.0 L703.6 143.0 L703.6 149.6 L767.6 149.6 L767.6 152.5 L774.7 152.5 L774.7 155.3 L788.9 155.3 L788.9 158.4 L867.1 158.4 L867.1 161.3 L938.2 161.3 L938.2 163.9 L952.4 163.9 L952.4 166.7 L1066.2 166.7 L1066.2 169.2 L1485.7 169.2 L1485.7 173.8 L1514.1 173.8 L1514.1 178.2 L1613.7 178.2 L1613.7 179.5 L1649.2 179.5" stroke="#FF0000"/>
<path d="M355.7 66.8h41.6M376.5 46.0v41.6M505.0 108.6h41.6M525.8 87.8v41.6M590.3 125.9h41.6M611.1 105.1v41.6M597.5 125.9h41.6M618.2 105.1v41.6M697.0 149.6h41.6M717.8 128.8v41.6M704.1 149.6h41.6M724.9 128.8v41.6M789.4 158.4h41.6M810.2 137.6v41.6M874.7 161.3h41.6M895.5 140.5v41.6M960.1 166.7h41.6M980.9 145.9v41.6M974.3 166.7h41.6M995.1 145.9v41.6M1002.7 166.7h41.6M1023.5 145.9v41.6M1109.4 169.2h41.6M1130.2 148.4v41.6M1144.9 169.2h41.6M1165.7 148.4v41.6M1180.5 169.2h41.6M1201.3 148.4v41.6M1294.2 169.2h41.6M1315.0 148.4v41.6M1344.0 169.2h41.6M1364.8 148.4v41.6M1400.9 169.2h41.6M1421.7 148.4v41.6M1450.6 169.2h41.6M1471.4 148.4v41.6M1514.6 178.2h41.6M1535.4 157.4v41.6M1521.8 178.2h41.6M1542.6 157.4v41.6M1607.1 179.5h41.6M1627.9 158.7v41.6M1628.4 179.5h41.6M1649.2 158.7v41.6" stroke="#FF0000"/>
<path d="M317.8 32V983.8H1700.2M317.8 948.9H279M317.8 860.7H279M317.8 772.5H279M317.8 684.3H279M317.8 596.1H279M317.8 507.8H279M317.8 419.6H279M317.8 331.4H279M317.8 243.2H279M317.8 155.0H279M317.8 66.8H279M369.4 983.8V1023.3M582.7 983.8V1023.3M796.0 983.8V1023.3M1009.3 983.8V1023.3M1222.6 983.8V1023.3M1435.9 983.8V1023.3M1649.2 983.8V1023.3" stroke="#000"/>
</g>
<g font-size="66.5" text-anchor="end" letter-spacing="0.8">
<text x="239.5" y="973.4">0</text>
<text x="239.5" y="885.2">0.1</text>
<text x="239.5" y="797.0">0.2</text>
<text x="239.5" y="708.8">0.3</text>
<text x="239.5" y="620.6">0.4</text>
<text x="239.5" y="532.3">0.5</text>
<text x="239.5" y="444.1">0.6</text>
<text x="239.5" y="355.9">0.7</text>
<text x="239.5" y="267.7">0.8</text>
<text x="239.5" y="179.5">0.9</text>
<text x="239.5" y="91.3">1</text>
</g>
<g font-size="66.5" text-anchor="middle" letter-spacing="0.7">
<text x="369.4" y="1128.6">0</text>
<text x="582.7" y="1128.6">30</text>
<text x="796.0" y="1128.6">60</text>
<text x="1009.3" y="1128.6">90</text>
<text x="1222.6" y="1128.6">120</text>
<text x="1435.9" y="1128.6">150</text>
<text x="1649.2" y="1128.6">180</text>
<text x="1008.8" y="1289.2">Days after LT</text>
<text transform="translate(63 505) rotate(-90)" letter-spacing="0.2">Graft survival rate</text>
</g>
<text x="460.3" y="879.4" font-size="66.2">p&lt;0.001</text>
<g font-size="51.5">
<text x="1888.0" y="130.8" text-anchor="middle" letter-spacing="1.1">EAD</text>
<path d="M1734.9 194.9H1828.3" stroke="#000000" stroke-width="5.9" stroke-linecap="round"/>
<text x="1877" y="215.2">No EAD</text>
<path d="M1734.9 258.9H1828.3" stroke="#FF0000" stroke-width="5.9" stroke-linecap="round"/>
<text x="1877" y="279.2">EAD</text>
</g>
</g>
<text x="1094.0" y="2832.0" font-size="84">E</text>
</svg></body></html>
